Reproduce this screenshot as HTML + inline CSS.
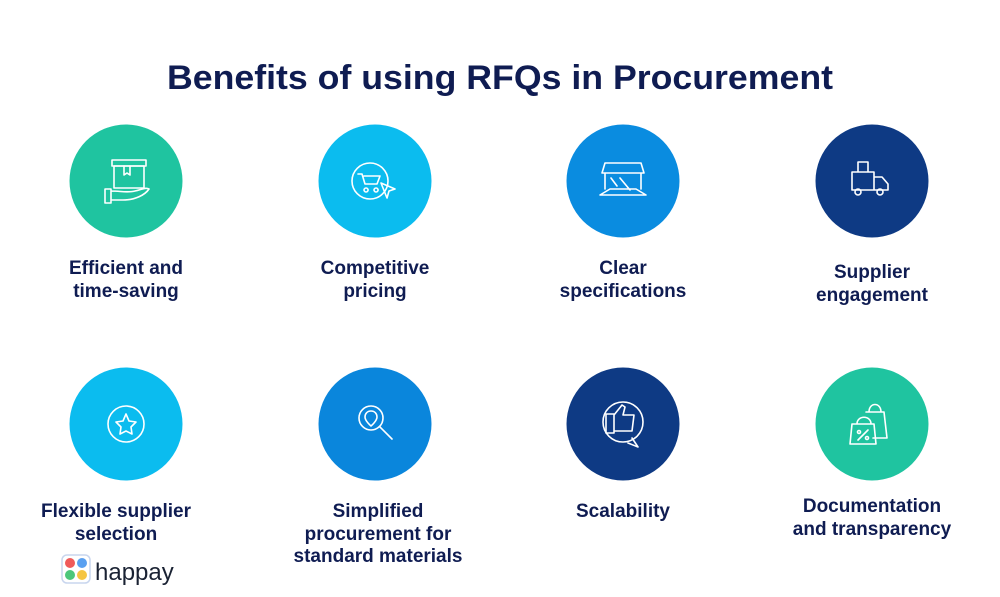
<!DOCTYPE html>
<html><head><meta charset="utf-8"><style>
body{margin:0;background:#fff;width:1000px;height:597px;overflow:hidden}
svg{display:block}
text{font-family:"Liberation Sans",sans-serif;font-weight:bold;fill:#0f1c52}
.l{font-size:19px;text-anchor:middle}
.i{fill:none;stroke:#fff;stroke-width:1.6;stroke-linejoin:round;stroke-linecap:round}
</style></head><body>
<svg width="1000" height="597" viewBox="0 0 1000 597">
<text x="167" y="89" font-size="34" textLength="666" lengthAdjust="spacingAndGlyphs">Benefits of using RFQs in Procurement</text>
<circle cx="126" cy="181" r="56.5" fill="#1fc4a0"/>
<circle cx="375" cy="181" r="56.5" fill="#0bbcef"/>
<circle cx="623" cy="181" r="56.5" fill="#0a8ce0"/>
<circle cx="872" cy="181" r="56.5" fill="#0e3a84"/>
<circle cx="126" cy="424" r="56.5" fill="#0bbcef"/>
<circle cx="375" cy="424" r="56.5" fill="#0a86dc"/>
<circle cx="623" cy="424" r="56.5" fill="#0e3a84"/>
<circle cx="872" cy="424" r="56.5" fill="#1fc4a0"/>
<g class="i">
<rect x="112" y="160" width="34" height="6"/><rect x="114" y="166" width="30" height="22"/><path d="M124 166v9l3-2 3 2v-9"/>
<path d="M105 189h6v14h-6zM111 191c10 0 16 2 24 0 6-1 10-4 14-2-4 6-14 11-26 11h-12"/>
<circle cx="370" cy="181" r="18"/><path d="M358 174h4l3 10h12l3-8h-16M366 188a2 2 0 1 0 .1 0M376 188a2 2 0 1 0 .1 0M381 183l14 6-6 2-2 7z"/>
<path d="M605 163h36l3 10h-42zM605 173v16M641 173v16M611 178l6 8M620 178l10 12M600 195h46l-10-6h-26z"/>
<path d="M852 172h22v18h-22zM874 177h8l6 7v6h-14M858 162h10v10h-10z"/><circle cx="858" cy="192" r="3"/><circle cx="880" cy="192" r="3"/>
<circle cx="126" cy="424" r="18"/><path d="M126 414l3 7 7 1-5 5 1 7-6-3-6 3 1-7-5-5 7-1z"/>
<circle cx="371" cy="418" r="12"/><path d="M380 427l12 12M371 411c-4 0-6 3-6 6 0 4 6 9 6 9s6-5 6-9c0-3-2-6-6-6z"/>
<circle cx="623" cy="422" r="20"/><path d="M632 438l6 9-10-4M606 414h8v19h-8zM614 415l8-10 3 2-2 8h11l-2 16h-18"/>
<path d="M866 412h18l3 26h-14M869 412c0-10 12-10 12 0M852 424h22l2 20h-26zM857 424c0-9 14-9 14 0M858 440l10-10"/><circle cx="859" cy="432" r="1.5"/><circle cx="867" cy="438" r="1.5"/>
</g>
<text class="l" x="126" y="274">Efficient and</text>
<text class="l" x="126" y="297">time-saving</text>
<text class="l" x="375" y="274">Competitive</text>
<text class="l" x="375" y="297">pricing</text>
<text class="l" x="623" y="274">Clear</text>
<text class="l" x="623" y="297">specifications</text>
<text class="l" x="872" y="278">Supplier</text>
<text class="l" x="872" y="301">engagement</text>
<text class="l" x="116" y="517">Flexible supplier</text>
<text class="l" x="116" y="540">selection</text>
<text class="l" x="378" y="517">Simplified</text>
<text class="l" x="378" y="540">procurement for</text>
<text class="l" x="378" y="562">standard materials</text>
<text class="l" x="623" y="517">Scalability</text>
<text class="l" x="872" y="512">Documentation</text>
<text class="l" x="872" y="535">and transparency</text>
<rect x="62" y="555" width="28" height="28" rx="5" fill="#fff" stroke="#c9d6ee" stroke-width="1.5"/>
<circle cx="70" cy="563" r="5" fill="#ef5a5a"/><circle cx="82" cy="563" r="5" fill="#5aa0f0"/>
<circle cx="70" cy="575" r="5" fill="#4cc77a"/><circle cx="82" cy="575" r="5" fill="#f5c542"/>
<text x="95" y="580" font-size="24" style="font-weight:normal;fill:#1a2233">happay</text>
</svg>
</body></html>
